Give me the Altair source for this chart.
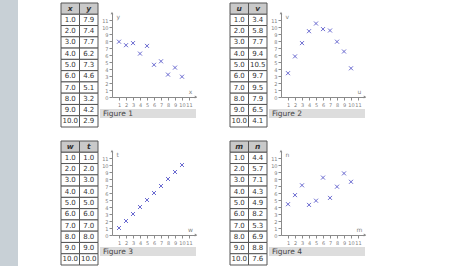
import altair as alt
import pandas as pd

# ---- data ----
x_vals = [1.0, 2.0, 3.0, 4.0, 5.0, 6.0, 7.0, 8.0, 9.0, 10.0]
fig1_y = [7.9, 7.4, 7.7, 6.2, 7.3, 4.6, 5.1, 3.2, 4.2, 2.9]
fig2_v = [3.4, 5.8, 7.7, 9.4, 10.5, 9.7, 9.5, 7.9, 6.5, 4.1]
fig3_t = [1.0, 2.0, 3.0, 4.0, 5.0, 6.0, 7.0, 8.0, 9.0, 10.0]
fig4_n = [4.4, 5.7, 7.1, 4.3, 4.9, 8.2, 5.3, 6.9, 8.8, 7.6]
var_names = [("x", "y"), ("u", "v"), ("w", "t"), ("m", "n")]
captions = ["Figure 1", "Figure 2", "Figure 3", "Figure 4"]
series = [fig1_y, fig2_v, fig3_t, fig4_n]
axis_ticks = list(range(1, 12))
axis_max = 12

FONT = "DejaVu Sans"
PT_COLOR = "#6a6ad0"
AX_COLOR = "#8a8a8a"
LAB_COLOR = "#808080"


def table(xname, yname, xv, yv, h):
    rows = [dict(c=0, r=0, txt=xname, head=True), dict(c=1, r=0, txt=yname, head=True)]
    for i, (a, b) in enumerate(zip(xv, yv)):
        rows.append(dict(c=0, r=i + 1, txt=f"{a:.1f}", head=False))
        rows.append(dict(c=1, r=i + 1, txt=f"{b:.1f}", head=False))
    df = pd.DataFrame(rows)
    df["c2"] = df.c + 1
    df["r2"] = df.r + 1
    df["cm"] = df.c + 0.5
    df["rm"] = df.r + 0.5
    xs = alt.Scale(domain=[0, 2], range=[0, 37], nice=False, zero=False)
    ys = alt.Scale(domain=[0, 11], range=[3, 127], nice=False, zero=False)
    base = alt.Chart(df)
    cells = base.mark_rect(stroke="#555555", strokeWidth=1).encode(
        x=alt.X("c:Q", scale=xs, axis=None),
        x2="c2:Q",
        y=alt.Y("r:Q", scale=ys, axis=None),
        y2="r2:Q",
        fill=alt.condition("datum.head", alt.value("#c9c9c9"), alt.value("white")),
    )
    body = base.transform_filter("!datum.head").mark_text(
        font=FONT, fontSize=7, color="#333333", baseline="middle"
    ).encode(
        x=alt.X("cm:Q", scale=xs, axis=None),
        y=alt.Y("rm:Q", scale=ys, axis=None),
        text="txt:N",
    )
    head = base.transform_filter("datum.head").mark_text(
        font=FONT, fontSize=7.5, color="#333333", baseline="middle",
        fontStyle="italic", fontWeight="bold",
    ).encode(
        x=alt.X("cm:Q", scale=xs, axis=None),
        y=alt.Y("rm:Q", scale=ys, axis=None),
        text="txt:N",
    )
    return alt.layer(cells, body, head).properties(width=37, height=h)


def plot(xname, yname, xv, yv, cap):
    df = pd.DataFrame({"a": xv, "b": yv})
    xsc = alt.Scale(domain=[0, axis_max], range=[14, 98], nice=False, zero=False)
    ysc = alt.Scale(domain=[0, axis_max], range=[97, 13], nice=False, zero=False)
    xax = alt.Axis(
        values=axis_ticks, grid=False, tickSize=3, labelFontSize=5, labelColor=LAB_COLOR,
        labelFont=FONT, labelPadding=2, tickColor=AX_COLOR, domainColor=AX_COLOR,
        labelOverlap=False, labelFlush=False,
        title=xname, titleFont=FONT, titleFontSize=6, titleColor=LAB_COLOR,
        titleFontWeight="normal", titleX=92, titleY=-6, titleAlign="center",
        titleBaseline="middle",
    )
    yax = alt.Axis(
        values=[0] + axis_ticks, grid=False, tickSize=3, labelFontSize=5, labelColor=LAB_COLOR,
        labelFont=FONT, labelPadding=1, tickColor=AX_COLOR, domainColor=AX_COLOR,
        labelOverlap=False, labelFlush=False,
        offset=-14, title=yname, titleFont=FONT, titleFontSize=6, titleColor=LAB_COLOR,
        titleFontWeight="normal", titleAngle=0, titleX=4, titleY=16,
        titleAlign="left", titleBaseline="middle",
    )
    pts = alt.Chart(df).mark_point(
        shape="M-1,-1L1,1M-1,1L1,-1", size=16, strokeWidth=1, color=PT_COLOR, opacity=1
    ).encode(
        x=alt.X("a:Q", scale=xsc, axis=xax),
        y=alt.Y("b:Q", scale=ysc, axis=yax),
    )
    arrows_df = pd.DataFrame({
        "a": [0, axis_max], "b": [axis_max, 0], "shp": ["triangle-up", "triangle-right"]
    })
    arrows = alt.Chart(arrows_df).mark_point(
        size=8, filled=True, color=AX_COLOR, opacity=1
    ).encode(
        x=alt.X("a:Q", scale=xsc, axis=xax),
        y=alt.Y("b:Q", scale=ysc, axis=yax),
        shape=alt.Shape("shp:N", scale=None),
    )
    one = pd.DataFrame({"cap": [cap]})
    cap_rect = alt.Chart(one).mark_rect(color="#dddddd").encode(
        x=alt.value(2), x2=alt.value(98), y=alt.value(109), y2=alt.value(118)
    )
    cap_text = alt.Chart(one).mark_text(
        font=FONT, fontSize=7.5, color="#444444", align="left", baseline="middle"
    ).encode(x=alt.value(5), y=alt.value(113.5), text="cap:N")
    return alt.layer(pts, arrows, cap_rect, cap_text).properties(width=132, height=97)


def gray(h):
    return alt.Chart(pd.DataFrame({"a": [0]})).mark_rect(color="#c8d0d6").encode(
        x=alt.value(0), x2=alt.value(18), y=alt.value(0), y2=alt.value(h)
    ).properties(width=61, height=h)


cells = []
for (i, j, h) in [(0, 1, 138), (2, 3, 128)]:
    cells += [
        gray(h),
        table(var_names[i][0], var_names[i][1], x_vals, series[i], h),
        plot(var_names[i][0], var_names[i][1], x_vals, series[i], captions[i]),
        table(var_names[j][0], var_names[j][1], x_vals, series[j], h),
        plot(var_names[j][0], var_names[j][1], x_vals, series[j], captions[j]),
    ]

chart = alt.concat(
    *cells, columns=5, spacing=0, bounds="flush", align="each"
).properties(padding=0, background="white").configure_view(strokeWidth=0)

chart.save("out.html", embed_options={"renderer": "svg", "actions": False})
